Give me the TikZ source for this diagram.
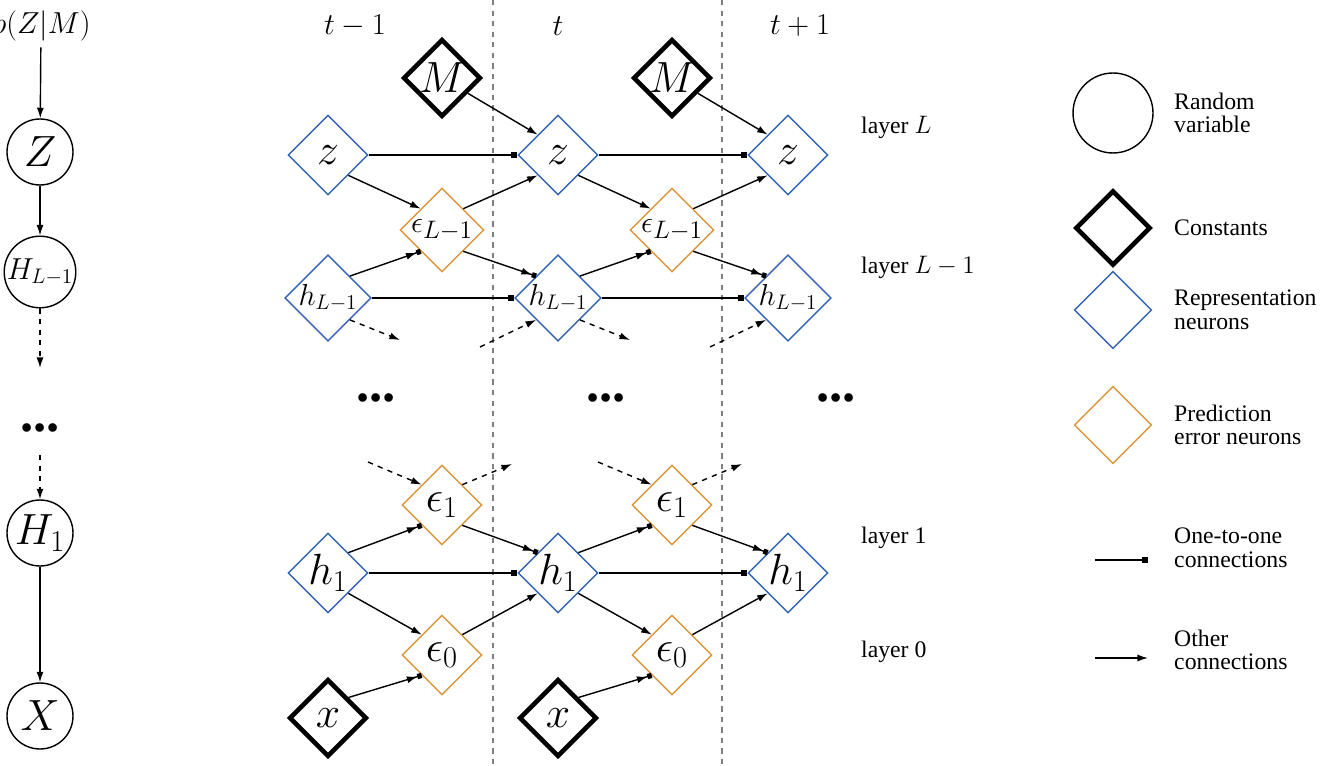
\documentclass[tikz,border=0pt]{standalone}
\usepackage{amsmath}
\usepackage{fontspec}
\setmainfont{Liberation Serif}
\usetikzlibrary{positioning}
\usetikzlibrary{shapes.geometric}
\usetikzlibrary{arrows.meta}
\definecolor{repblue}{RGB}{50,100,180}
\definecolor{errorange}{RGB}{220,150,60}
\newcommand{\fs}[1]{\fontsize{#1}{#1}\selectfont}
\tikzset{
  rv/.style={circle,draw,thick,minimum size=1.32cm,inner sep=0pt,font=\fs{24}},
  const/.style={diamond,draw,line width=2.6pt,minimum size=1.55cm,inner sep=0pt,font=\fs{28}},
  rep/.style={diamond,draw=repblue,thick,minimum size=1.6cm,inner sep=0pt,font=\fs{34}},
  err/.style={diamond,draw=errorange,thick,minimum size=1.6cm,inner sep=0pt,font=\fs{24}},
  one/.style={-{Square[length=3.5pt,width=3.5pt]},thick},
  oth/.style={-{Latex[length=6pt,width=4pt]},thick},
  one2/.style={-{Latex[length=6pt,width=4pt]Square[length=2.5pt,width=3pt]},thick},
  lbl/.style={align=left,anchor=west,font=\fs{13.5}},
  dots/.style={font=\fs{30}\bfseries}
}
\begin{document}
\begin{tikzpicture}[x=0.02cm,y=-0.02cm]
\useasboundingbox (0,0) rectangle (1328,766);
% time separators
\draw[gray,dashed,thick] (493,0) -- (493,766);
\draw[gray,dashed,thick] (722,0) -- (722,766);
\node[font=\fs{19}] at (355,26) {$t-1$};
\node[font=\fs{19}] at (558,26) {$t$};
\node[font=\fs{19}] at (800,26) {$t+1$};
% generative model
\node[font=\fs{18}] (pzm) at (41,26) {$p(Z|M)$};
\node[rv] (Z) at (40,152) {$Z$};
\node[rv,font=\fs{18}] (HL) at (40,272) {$H_{L-1}$};
\coordinate (HLd) at (40,368);
\node[dots] (gdots) at (40,428) {...};
\coordinate (H1u) at (40,455);
\node[rv] (H1) at (40,533) {$H_1$};
\node[rv] (X) at (40,716) {$X$};
\draw[oth] (pzm) -- (Z);
\draw[oth] (Z) -- (HL);
\draw[oth,dashed] (HL) -- (HLd);
\draw[oth,dashed] (H1u) -- (H1);
\draw[oth] (H1) -- (X);
% network
\foreach \n/\x in {a/328,b/558,c/788}{
  \node[rep] (z\n) at (\x,155) {$z$};
  \node[rep,font=\fs{17}] (hL\n) at (\x,298) {$h_{L-1}$};
  \node[rep,font=\fs{26}] (h1\n) at (\x,573) {$h_1$};
  \node[dots] at (\x+48,398) {...};
}
\foreach \n/\x in {a/442,b/672}{
  \node[const] (M\n) at (\x,78) {$M$};
  \node[err,font=\fs{19}] (eL\n) at (\x,230) {$\epsilon_{L-1}$};
  \node[err] (e1\n) at (\x,505) {$\epsilon_1$};
  \node[err] (e0\n) at (\x,655) {$\epsilon_0$};
}
\node[const] (xa) at (328,718) {$x$};
\node[const] (xb) at (558,718) {$x$};
\foreach \p/\q in {a/b,b/c}{
  \draw[oth] (M\p) -- (z\q.north west);
  \draw[one] (z\p) -- (z\q);
  \draw[one] (hL\p) -- (hL\q);
  \draw[one] (h1\p) -- (h1\q);
  \draw[oth] (z\p.south east) -- (eL\p.north west);
  \draw[oth] (eL\p.north east) -- (z\q.south west);
  \draw[one2] (hL\p.north east) -- (eL\p.south west);
  \draw[one2] (eL\p.south east) -- (hL\q.north west);
  \draw[one2] (h1\p.north east) -- (e1\p.south west);
  \draw[one2] (e1\p.south east) -- (h1\q.north west);
  \draw[oth] (h1\p.south east) -- (e0\p.north west);
  \draw[oth] (e0\p.north east) -- (h1\q.south west);
  \draw[one2] (x\p.north east) -- (e0\p.south west);
}
% dashed stubs
\foreach \p/\q/\x in {a/b/328,b/c/558}{
  \coordinate (s1\p) at (\x+72,340);
  \coordinate (s2\p) at (\x+152,347);
  \coordinate (s3\p) at (\x+40,462);
  \coordinate (s4\p) at (\x+184,464);
  \draw[oth,dashed] (hL\p.south east) -- (s1\p);
  \draw[oth,dashed] (s2\p) -- (hL\q.south west);
  \draw[oth,dashed] (s3\p) -- (e1\p.north west);
  \draw[oth,dashed] (e1\p.north east) -- (s4\p);
}
% layer labels
\node[lbl] at (855,127) {layer $L$};
\node[lbl] at (855,267) {layer $L-1$};
\node[lbl] at (855,538) {layer 1};
\node[lbl] at (855,652) {layer 0};
% legend
\node[circle,draw,thick,minimum size=1.6cm] (lrv) at (1113,113) {};
\node[lbl] at (1168,113) {Random\\variable};
\node[const,minimum size=1.5cm] (lc) at (1113,228) {};
\node[lbl] at (1168,228) {Constants};
\node[rep,minimum size=1.55cm] (lr) at (1113,310) {};
\node[lbl] at (1168,310) {Representation\\neurons};
\node[err,minimum size=1.55cm] (le) at (1113,425) {};
\node[lbl] at (1168,425) {Prediction\\error neurons};
\coordinate (lo1) at (1095,560);
\coordinate (lo2) at (1148,560);
\draw[one] (lo1) -- (lo2);
\node[lbl] at (1168,548) {One-to-one\\connections};
\coordinate (lt1) at (1095,658);
\coordinate (lt2) at (1148,658);
\draw[oth] (lt1) -- (lt2);
\node[lbl] at (1168,650) {Other\\connections};
\end{tikzpicture}
\end{document}
